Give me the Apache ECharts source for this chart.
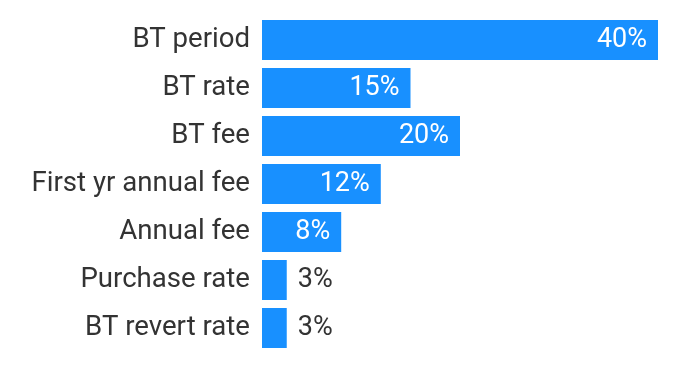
<!DOCTYPE html>
<html>
<head>
<meta charset="utf-8">
<script src="https://cdn.jsdelivr.net/npm/echarts@6/dist/echarts.min.js"></script>
<style>html,body{margin:0;padding:0;background:#fff}#c{width:680px;height:368px}</style>
</head>
<body>
<div id="c"></div>
<script>
const categories = ["BT period", "BT rate", "BT fee", "First yr annual fee", "Annual fee", "Purchase rate", "BT revert rate"];
const values = [40, 15, 20, 12, 8, 2.5, 2.5];

const chart = echarts.init(document.getElementById('c'));
chart.setOption({
  animation: false,
  grid: { left: 262, right: 22, top: 16, bottom: 16, containLabel: false },
  xAxis: { type: 'value', min: 0, max: 40, show: false },
  yAxis: {
    type: 'category', data: categories, inverse: true,
    axisLine: { show: false }, axisTick: { show: false },
    axisLabel: { margin: 12, fontSize: 27.6, color: '#333', fontFamily: 'Roboto', padding: [5, 0, 0, 0] }
  },
  series: [{
    type: 'bar',
    barCategoryGap: '16.7%',
    itemStyle: { color: '#1890ff' },
    data: values.map(v => ({
      value: v,
      label: v < 5
        ? { show: true, position: 'right', distance: 11, color: '#333' }
        : { show: true, position: 'insideRight', distance: 11, color: '#fff' }
    })),
    label: {
      show: true, fontSize: 27, fontFamily: 'Roboto', padding: [4, 0, 0, 0],
      formatter: p => Math.round(p.value) + '%'
    }
  }]
});
</script>
</body>
</html>
